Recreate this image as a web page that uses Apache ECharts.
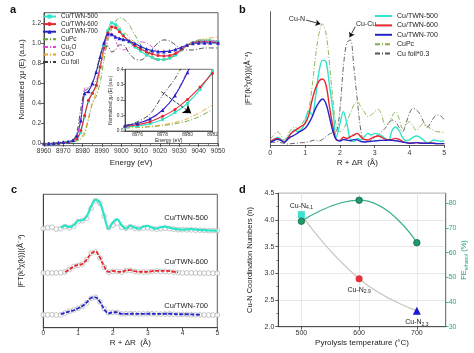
<!DOCTYPE html>
<html>
<head>
<meta charset="utf-8">
<script src="https://cdn.jsdelivr.net/npm/echarts@6/dist/echarts.min.js"></script>
<style>
html,body{margin:0;padding:0;background:#fff;}
#main{width:474px;height:353px;}
</style>
</head>
<body>
<div id="main"></div>
<script>
// ---- panel a : XANES ----
var energy=[8960,8962.5,8965,8967.5,8970,8972.5,8975,8977,8979,8981,8983,8985,8987,8989,8991,8993,8995,8997,8999,9001,9004,9007,9010,9013,9016,9019,9022,9025,9028,9031,9034,9037,9040,9043,9046,9050];
var twn500=[0,0,0,0.005,0.01,0.015,0.025,0.045,0.11,0.27,0.42,0.5,0.58,0.76,0.96,1.12,1.2,1.18,1.13,1.08,1.01,0.96,0.92,0.88,0.855,0.835,0.835,0.85,0.88,0.93,0.975,1.005,1.02,1.02,1.02,1.01];
var twn600=[0,0,0,0.005,0.01,0.015,0.03,0.05,0.13,0.28,0.43,0.5,0.58,0.76,0.95,1.1,1.16,1.15,1.11,1.07,1.02,0.975,0.94,0.91,0.89,0.875,0.87,0.875,0.895,0.935,0.975,1.0,1.01,1.01,1.01,1.0];
var twn700=[0,0,0.005,0.01,0.015,0.02,0.035,0.08,0.23,0.5,0.52,0.6,0.71,0.86,1.0,1.09,1.085,1.06,1.045,1.035,1.02,0.995,0.965,0.94,0.925,0.915,0.915,0.92,0.935,0.955,0.98,0.995,1.0,1.0,1.0,1.0];
var cupc=[0,0,0,0,0.005,0.01,0.02,0.027,0.047,0.095,0.24,0.4,0.47,0.6,0.83,1.02,1.14,1.21,1.25,1.24,1.18,1.08,0.98,0.9,0.85,0.83,0.83,0.85,0.88,0.93,0.98,1.01,1.02,1.03,1.03,1.02];
var cu2o=[0,0,0,0.005,0.01,0.015,0.03,0.075,0.235,0.55,0.56,0.57,0.63,0.75,0.9,1.05,1.1,1.02,0.95,0.93,0.95,0.99,1.01,1.0,0.96,0.92,0.89,0.87,0.88,0.93,0.98,1.01,1.02,1.02,1.02,1.02];
var cuo=[0,0,0,0,0.005,0.01,0.02,0.03,0.055,0.12,0.26,0.4,0.52,0.72,0.94,1.08,1.15,1.18,1.16,1.12,1.06,1.0,0.95,0.9,0.86,0.84,0.835,0.845,0.875,0.92,0.97,1.01,1.03,1.04,1.05,1.06];
var cufoil=[0,0,0,0.005,0.01,0.02,0.035,0.11,0.34,0.52,0.55,0.6,0.72,0.87,0.97,0.97,0.91,0.93,0.98,0.98,0.9,0.84,0.83,0.87,0.94,1.0,1.03,1.02,0.98,0.94,0.93,0.93,0.94,0.95,0.95,0.95];

// inset of a
var energyIn=[8975,8976,8977,8978,8979,8980,8981,8982];
var in500=[0.025,0.033,0.048,0.075,0.12,0.18,0.27,0.39];
var in600=[0.03,0.04,0.06,0.095,0.14,0.205,0.285,0.375];
var in700=[0.035,0.05,0.08,0.135,0.23,0.38,0.55,0.7];
var inCuPc=[0.02,0.022,0.027,0.035,0.047,0.065,0.095,0.14];
var inCu2O=[0.03,0.045,0.075,0.13,0.235,0.39,0.55,0.7];
var inCuO=[0.02,0.024,0.03,0.04,0.055,0.08,0.12,0.17];
var inFoil=[0.035,0.06,0.11,0.23,0.34,0.48,0.6,0.7];

// ---- panel b : FT-EXAFS ----
var rB=[0,0.1,0.2,0.3,0.4,0.5,0.6,0.7,0.8,0.9,1.0,1.1,1.2,1.3,1.4,1.5,1.6,1.7,1.8,1.9,2.0,2.1,2.2,2.3,2.4,2.5,2.6,2.7,2.8,2.9,3.0,3.1,3.2,3.3,3.4,3.5,3.6,3.7,3.8,3.9,4.0,4.1,4.2,4.3,4.4,4.5,4.6,4.7,4.8,4.9,5.0];
var b500=[1.75,3.75,5.75,4.5,2.5,5.75,8.75,11.25,10,12,17,26,22.5,36,55,63.5,62.5,45,26,6,16,25,16,4,2.5,5,3.8,6.2,8.7,7.5,8.7,8.2,6.8,5,3.8,11,13.5,10.8,5.8,3.2,3.8,5.8,6.8,5.8,3.8,1.8,2.2,3.8,3.2,2.8,3.2];
var b600=[2.5,4.25,5,3.8,2,5,8.75,10.75,12.5,14.25,16,22,33.5,42.5,48,49.5,45,29,13.5,3.8,3.5,5.8,5,6.2,7.5,8.7,6.2,4.2,3.8,5,6.2,6.8,5.8,4.2,3.8,4.2,5,4.2,2.8,1.8,1.3,1.5,1.8,1.5,1.3,1.4,1.5,1.3,1,1,1];
var b700=[1.75,3.25,4.25,3.5,2,4.25,6.25,7.5,9.25,10.75,12.5,16,21,27.5,32,34.5,31,21,10,4,3,4,3.8,3.2,4,3.8,2.6,2.3,2.5,2.8,3,3.3,3.5,3.5,3.7,3.5,3.2,2.8,2.2,1.8,1.3,1.5,1.8,1.5,1.3,1.2,1.3,1.2,1,1,1];
var bCuPc=[4.25,7.5,10,7.5,3.75,7.5,11.75,13.75,11.75,15,20,26,43.75,66.25,83.75,90.75,83.75,61.25,33.75,13.75,10,11.75,17.5,23.75,30,32.5,28.75,25,21.25,22.5,25,26.75,22.5,15,16.25,21.75,25,20,12.5,15,17.5,14.25,10.75,13.75,16.25,14.25,12.5,10.75,10,9.75,9.25];
var bFoil=[1.75,2,2.5,1.75,1.25,0.75,1,1.25,1.5,1.75,1.75,2.5,3.25,3.75,3,4.25,6.25,8.25,9.25,10,26.25,58.75,76.75,78.75,58.75,33.75,11.25,2.5,2.5,3.75,5.75,7.5,10,12.5,16.25,18.75,17.5,13.25,10,16.25,23.75,27.5,26.25,23.25,17.5,13.25,16.25,20.75,22.5,21.75,18.75];

// ---- panel c : fits (offset curves) ----
var rC=[0,0.125,0.25,0.375,0.5,0.625,0.75,0.875,1,1.125,1.25,1.375,1.5,1.625,1.75,1.875,2,2.125,2.25,2.375,2.5,2.625,2.75,2.875,3,3.125,3.25,3.375,3.5,3.625,3.75,3.875,4,4.125,4.25,4.375,4.5,4.625,4.75,4.875,5];
var cOffsets=[98,55,13];
var c500exp=[1.7,2.5,3,1,1.5,3.5,2.5,4,8.5,9.5,12,22,29.5,27,14,2.5,5,7,3,2,3.5,2,1.5,2,2.5,1.5,1,1.5,2,1.5,1,0.5,0.5,0.3,0.3,0,0,-0.3,-0.5,-0.5,-0.5];
var c500fit=[2.3,4.5,3,5,9.5,10,14,24,30.3,27.5,14.5,1.5,8,11,5,1.5,4.3,2.5,1.5,3.5,4.3,2.5,1.5,3,3.5,2.5,1.5,0.8,0.5,0.8,1,0.6,0.2,0,-0.3,-0.5,-0.5];
var c600exp=[0,0,0,0,0.3,1,3.5,6.5,7.7,9,13.5,20,21,15,6,0.8,1.5,1.5,0.8,2.3,2.5,1.5,1,1,1,1.5,1.8,1.5,1.5,1.2,0.8,0.3,0,0,0,0,-0.2,-0.2,-0.2,-0.3,-0.3];
var c600fit=[0.8,3.5,6.5,8,9,13.5,19.5,21.5,15.5,6.5,1,2,1.3,1,2.5,2.8,1.8,1,1.2,1,1.8,2,2,2,1.8,1.2,0.6];
var c700exp=[0,0,0,-0.3,0,1.7,3.5,4.8,6.5,8.5,12,16.5,17.5,13,6,2,2.5,2.3,0.8,1,1.2,1,0.8,0.8,1,1,0.8,0.6,0.8,0.8,0.5,0.3,0.3,0.2,0,0,-0.2,-0.2,-0.3,-0.3,-0.3];
var c700fit=[0.5,2,3.5,4.5,6.5,8.8,12.5,17,17.5,13,5.5,1.5,2.5,2.5,0.8,0.8,1,1,0.8,0.8,1,1,0.8,0.8,1,1,0.8,0.5,0.5,0.5,0.3,0.2,0];
var cFitStart=[0.5,0.625,0.5];
var cLabels=['Cu/TWN-500','Cu/TWN-600','Cu/TWN-700'];

// ---- panel d ----
var temps=[500,600,700];
var cuN=[4.1,2.9,2.3];
var cuNText=['4.1','2.9','2.3'];
var feEthanol=[72.7,81.2,64.0];

var cyan='#2ee3c8',red='#e8262e',blue='#2424c8',green='#6aa436',magenta='#e048e0',orange='#e0a424',dark='#3a3a3a';
var teal='#2aa57e';
var dashDot=[5,2,1,2];
var font='Liberation Sans, Arial, Helvetica, sans-serif';

function zip(xs,ys){
    var out=[];
    for(var i=0;i<ys.length;i++){out.push([xs[i],ys[i]]);}
    return out;
}
function cPoints(vals,startR,off){
    var out=[];
    var s=rC.indexOf(startR);
    for(var i=0;i<vals.length;i++){out.push([rC[s+i],vals[i]+off]);}
    return out;
}
function xLine(name,xs,vals,color,sym,idx,w){
    var s={name:name,type:'line',xAxisIndex:idx,yAxisIndex:idx,data:zip(xs,vals),smooth:0.3,
        lineStyle:{color:color,width:w||1.1},itemStyle:{color:color},
        symbol:sym||'none',symbolSize:sym=='triangle'?3.8:3,showSymbol:!!sym,z:3};
    if(!sym){s.lineStyle.type=dashDot;s.lineStyle.width=0.9;}
    return s;
}
// legend entry with no marker, only the line
function lineOnly(name){return {name:name,itemStyle:{opacity:0}};}

var axLine={lineStyle:{color:'#333',width:0.8}};
var axTick={length:3,lineStyle:{color:'#333',width:0.8}};
function lab(fs,m){return {fontSize:fs,color:'#333',fontFamily:font,margin:m,formatter:function(v){return String(v);}};}
function nameStyle(fs){return {fontSize:fs,color:'#222',fontFamily:font};}
var fmt1=function(v){return v.toFixed(1);};

var series=[];
// a main
series.push(xLine('Cu/TWN-500',energy,twn500,cyan,'rect',0));
series.push(xLine('Cu/TWN-600',energy,twn600,red,'circle',0));
series.push(xLine('Cu/TWN-700',energy,twn700,blue,'triangle',0));
series.push(xLine('CuPc',energy,cupc,green,null,0));
series.push(xLine('Cu₂O',energy,cu2o,magenta,null,0));
series.push(xLine('CuO',energy,cuo,orange,null,0));
series.push(xLine('Cu foil',energy,cufoil,dark,null,0));
// a inset
series.push(xLine('CuPc',energyIn,inCuPc,green,null,1));
series.push(xLine('CuO',energyIn,inCuO,orange,null,1));
series.push(xLine('Cu₂O',energyIn,inCu2O,magenta,null,1));
series.push(xLine('Cu/TWN-500',energyIn,in500,cyan,'rect',1));
series.push(xLine('Cu/TWN-600',energyIn,in600,red,'circle',1));
series.push(xLine('Cu/TWN-700',energyIn,in700,blue,'triangle',1));
var inFoilS=xLine('Cu foil',energyIn,inFoil,dark,null,1);
inFoilS.markLine={silent:true,symbol:['none','arrow'],symbolSize:8,animation:false,
    lineStyle:{color:'#000',width:0.8,type:'dashed'},label:{show:false},
    data:[[{coord:[8977.9,0.255]},{coord:[8980.3,0.115]}]]};
series.push(inFoilS);
// b
function bLine(name,vals,color,dd){
    return {name:name,type:'line',xAxisIndex:2,yAxisIndex:2,data:zip(rB,vals),smooth:0.35,showSymbol:false,symbol:'none',
        lineStyle:{color:color,width:dd?0.9:1.4,type:dd?dashDot:'solid'},itemStyle:{color:color},z:3};
}
var bCuPcS=bLine('CuPc ',bCuPc,'#86ad4a',true);
bCuPcS.markLine={silent:true,symbol:['none','arrow'],symbolSize:5,animation:false,
    lineStyle:{color:'#111',width:0.8,type:'solid'},label:{show:false},
    data:[[{coord:[1.03,93.75]},{coord:[1.44,90.75]}]]};
var bFoilS=bLine('Cu foil*0.3',bFoil,'#555',true);
bFoilS.markLine={silent:true,symbol:['none','arrow'],symbolSize:5,animation:false,
    lineStyle:{color:'#111',width:0.8,type:'solid'},label:{show:false},
    data:[[{coord:[2.44,88.75]},{coord:[2.28,80.75]}]]};
series.push(bCuPcS,bFoilS);
series.push(bLine('Cu/TWN-500 ',b500,cyan,false));
series.push(bLine('Cu/TWN-600 ',b600,red,false));
series.push(bLine('Cu/TWN-700 ',b700,blue,false));
// c
var cExp=[c500exp,c600exp,c700exp];
var cFit=[c500fit,c600fit,c700fit];
var cColors=[cyan,red,blue];
for(var k=0;k<3;k++){
    series.push({name:'exp'+k,type:'scatter',xAxisIndex:3,yAxisIndex:3,data:cPoints(cExp[k],0,cOffsets[k]),
        symbol:'circle',symbolSize:4.8,itemStyle:{color:'#fff',borderColor:'#8c8c8c',borderWidth:0.6},z:2});
    series.push({name:'fit'+k,type:'line',xAxisIndex:3,yAxisIndex:3,data:cPoints(cFit[k],cFitStart[k],cOffsets[k]),
        smooth:0.35,showSymbol:false,symbol:'none',
        lineStyle:{color:cColors[k],width:k==0?2.2:1.8,type:k==0?'solid':[4,1.5]},z:3});
}
// d
var dSyms=['rect','circle','triangle'];
var dCols=['#3fe0cf','#e8303a','#1a1ad0'];
var dPos=['top','bottom','bottom'];
var dDist=[1,3,3];
var cuNData=[];
for(var j=0;j<temps.length;j++){
    cuNData.push({value:[temps[j],cuN[j]],symbol:dSyms[j],symbolSize:j==2?8:7,itemStyle:{color:dCols[j]},
        label:{show:true,position:dPos[j],distance:dDist[j],formatter:'{a|Cu-N}{s|'+cuNText[j]+'}',
            rich:{a:{fontSize:7,color:'#222',fontFamily:font},s:{fontSize:5,color:'#222',fontFamily:font,padding:[4,0,0,0]}}}});
}
series.push({name:'cuN',type:'line',xAxisIndex:4,yAxisIndex:4,data:cuNData,smooth:true,
    lineStyle:{color:'#cbc5bf',width:1.2},z:3});
series.push({name:'FE',type:'line',xAxisIndex:4,yAxisIndex:5,data:zip(temps,feEthanol),smooth:true,
    symbol:'circle',symbolSize:6.5,lineStyle:{color:'#3bb08c',width:1.2},
    itemStyle:{color:'#1f9a6a',borderColor:'#14664a',borderWidth:0.8},z:4});

var option={
    animation:false,
    backgroundColor:'#fff',
    textStyle:{fontFamily:font},
    grid:[
        {left:44,top:12.7,width:174,height:133,show:true,borderColor:'#333',borderWidth:0.8},
        {left:125,top:69.3,width:87.5,height:61.7,show:true,borderColor:'#333',borderWidth:0.7,backgroundColor:'#fff'},
        {left:270.3,top:11.7,width:174,height:133.3},
        {left:43.3,top:194.3,width:174,height:133.4,show:true,borderColor:'#333',borderWidth:0.8},
        {left:278.3,top:193.3,width:167.4,height:133.4,show:true,borderColor:'#333',borderWidth:0.8}
    ],
    xAxis:[
        {type:'value',gridIndex:0,min:8960,max:9050,interval:10,axisLine:axLine,axisTick:axTick,
            minorTick:{show:true,splitNumber:2,length:1.8,lineStyle:{color:'#333',width:0.6}},
            axisLabel:lab(6.5,2.5),splitLine:{show:false},
            name:'Energy (eV)',nameLocation:'middle',nameGap:13,nameTextStyle:nameStyle(8)},
        {type:'value',gridIndex:1,min:8975,max:8982,axisLine:axLine,
            axisTick:{length:2,lineStyle:{color:'#333',width:0.6},customValues:[8976,8978,8980,8982]},
            axisLabel:{fontSize:4.8,color:'#333',fontFamily:font,margin:1.5,customValues:[8976,8978,8980,8982],
                formatter:function(v){return String(v);}},
            splitLine:{show:false},name:'Energy (eV)',nameLocation:'middle',nameGap:6.5,nameTextStyle:nameStyle(5.2)},
        {type:'value',gridIndex:2,min:0,max:5,interval:1,axisLine:axLine,axisTick:axTick,
            axisLabel:lab(7,5),splitLine:{show:false},
            name:'R + ΔR  (Å)',nameLocation:'middle',nameGap:14,nameTextStyle:nameStyle(8)},
        {type:'value',gridIndex:3,min:0,max:5,interval:1,axisLine:axLine,axisTick:axTick,
            axisLabel:lab(6.5,2),splitLine:{show:false},
            name:'R + ΔR  (Å)',nameLocation:'middle',nameGap:11,nameTextStyle:nameStyle(8)},
        {type:'value',gridIndex:4,min:460,max:750,axisLine:axLine,
            axisTick:{length:3,lineStyle:{color:'#333',width:0.8},customValues:[500,600,700]},
            axisLabel:{fontSize:7,color:'#333',fontFamily:font,margin:3,customValues:[500,600,700]},
            splitLine:{show:true,lineStyle:{color:'#e2e2e2',width:0.8}},
            name:'Pyrolysis temperature (°C)',nameLocation:'middle',nameGap:12,nameTextStyle:nameStyle(8)}
    ],
    yAxis:[
        {type:'value',gridIndex:0,min:-0.02,max:1.3,axisLine:axLine,
            axisTick:{length:3,lineStyle:{color:'#333',width:0.8},customValues:[0,0.2,0.4,0.6,0.8,1.0,1.2]},
            axisLabel:{fontSize:6.5,color:'#333',fontFamily:font,margin:3,formatter:fmt1,customValues:[0,0.2,0.4,0.6,0.8,1.0,1.2]},
            splitLine:{show:false},
            name:'Normalized χμ (E) (a.u.)',nameLocation:'middle',nameGap:18,nameTextStyle:nameStyle(7.5)},
        {type:'value',gridIndex:1,min:0,max:0.4,interval:0.1,axisLine:axLine,
            axisTick:{length:2,lineStyle:{color:'#333',width:0.6}},
            axisLabel:{fontSize:4.8,color:'#333',fontFamily:font,margin:1.5,formatter:fmt1},
            splitLine:{show:false},
            name:'Normalized χμ (E) (a.u.)',nameLocation:'middle',nameGap:9,nameTextStyle:nameStyle(4.6)},
        {type:'value',gridIndex:2,min:0,max:100,axisLine:axLine,axisTick:{show:false},axisLabel:{show:false},
            splitLine:{show:false},
            name:'|FT(k³χ(k))|(Å⁻⁴)',nameLocation:'middle',nameGap:18,nameTextStyle:nameStyle(7.5)},
        {type:'value',gridIndex:3,min:0,max:134,axisLine:axLine,axisTick:{show:false},axisLabel:{show:false},
            splitLine:{show:false},
            name:'|FT(k³χ(k))|(Å⁻⁴)',nameLocation:'middle',nameGap:18,nameTextStyle:nameStyle(7.5)},
        {type:'value',gridIndex:4,min:2,max:4.5,interval:0.5,axisLine:axLine,axisTick:axTick,
            minorTick:{show:true,splitNumber:2,length:1.8,lineStyle:{color:'#333',width:0.6}},
            axisLabel:{fontSize:7,color:'#333',fontFamily:font,margin:4,formatter:fmt1},
            splitLine:{show:true,lineStyle:{color:'#e2e2e2',width:0.8}},
            name:'Cu-N Coordination Numbers (n)',nameLocation:'middle',nameGap:24,nameTextStyle:nameStyle(7.5)},
        {type:'value',gridIndex:4,position:'right',min:30,max:84,
            axisLine:{show:true,lineStyle:{color:teal,width:0.9}},
            axisTick:{show:true,length:3,lineStyle:{color:teal,width:0.8},customValues:[30,40,50,60,70,80]},
            axisLabel:{fontSize:7,color:teal,fontFamily:font,margin:3,customValues:[30,40,50,60,70,80]},
            splitLine:{show:false},
            name:'{a|FE}{s|ethanol}{a| (%)}',nameLocation:'middle',nameGap:14,
            nameTextStyle:{color:teal,fontFamily:font,rich:{a:{fontSize:7.5,color:teal,fontFamily:font},s:{fontSize:5,color:teal,fontFamily:font,padding:[4,0,0,0]}}}}
    ],
    legend:[
        {data:['Cu/TWN-500','Cu/TWN-600','Cu/TWN-700',lineOnly('CuPc'),lineOnly('Cu₂O'),lineOnly('CuO'),lineOnly('Cu foil')],orient:'vertical',
            left:42,top:13.5,itemWidth:13,itemHeight:5,itemGap:1.6,padding:0,selectedMode:false,
            textStyle:{fontSize:6.3,color:'#222',fontFamily:font}},
        {data:[lineOnly('Cu/TWN-500 '),lineOnly('Cu/TWN-600 '),lineOnly('Cu/TWN-700 '),lineOnly('CuPc '),lineOnly('Cu foil*0.3')],orient:'vertical',
            left:374,top:12.5,itemWidth:17,itemHeight:6,itemGap:2.4,padding:0,selectedMode:false,
            textStyle:{fontSize:7,color:'#222',fontFamily:font}}
    ],
    graphic:[
        {type:'text',x:10,y:4,style:{text:'a',font:'bold 11px '+font,fill:'#111'}},
        {type:'text',x:239,y:4,style:{text:'b',font:'bold 11px '+font,fill:'#111'}},
        {type:'text',x:11,y:184,style:{text:'c',font:'bold 11px '+font,fill:'#111'}},
        {type:'text',x:239,y:184,style:{text:'d',font:'bold 11px '+font,fill:'#111'}},
        {type:'text',x:297,y:19,style:{text:'Cu-N',fontSize:7,fontFamily:font,fill:'#222',align:'center',verticalAlign:'middle'}},
        {type:'text',x:366,y:24,style:{text:'Cu-Cu',fontSize:7,fontFamily:font,fill:'#222',align:'center',verticalAlign:'middle'}},
        {type:'text',x:208,y:218,style:{text:cLabels[0],fontSize:7.5,fontFamily:font,fill:'#222',align:'right',verticalAlign:'middle'}},
        {type:'text',x:208,y:262,style:{text:cLabels[1],fontSize:7.5,fontFamily:font,fill:'#222',align:'right',verticalAlign:'middle'}},
        {type:'text',x:208,y:306,style:{text:cLabels[2],fontSize:7.5,fontFamily:font,fill:'#222',align:'right',verticalAlign:'middle'}}
    ],
    series:series
};

var chart=echarts.init(document.getElementById('main'));
chart.setOption(option);
</script>
</body>
</html>
